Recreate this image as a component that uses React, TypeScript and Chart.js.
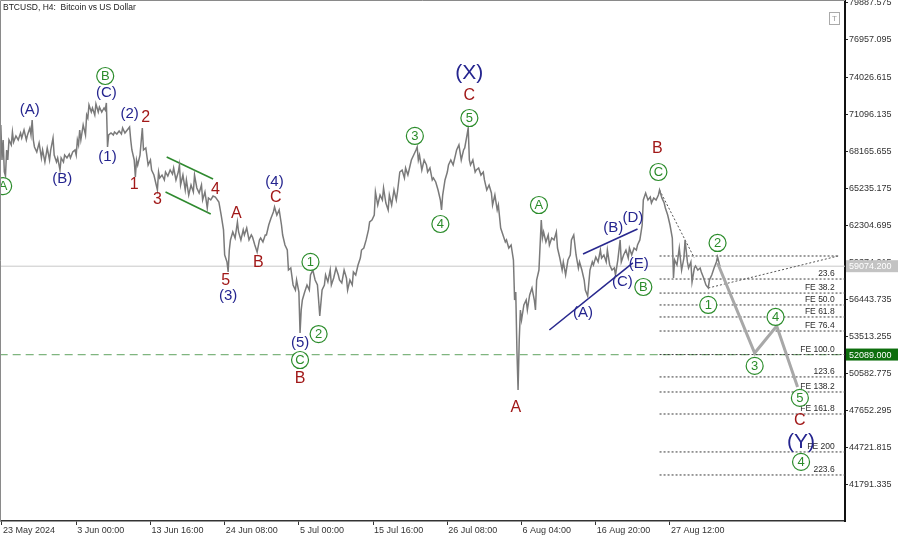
import { useEffect, useRef } from 'react';
import { Chart, registerables } from 'chart.js';

Chart.register(...registerables);

// ---------- data ----------
const xTickBars = [0, 64, 128, 192, 256, 320, 384, 448, 512, 576];
const xTickLabels = ['23 May 2024', '3 Jun 00:00', '13 Jun 16:00', '24 Jun 08:00', '5 Jul 00:00', '15 Jul 16:00', '26 Jul 08:00', '6 Aug 04:00', '16 Aug 20:00', '27 Aug 12:00'];
const yTickValues = [79887.575, 76957.095, 74026.615, 71096.135, 68165.655, 65235.175, 62304.695, 59374.215, 56443.735, 53513.255, 50582.775, 47652.295, 44721.815, 41791.335];

// [H4 bar index, price]
const priceTrace: [number, number][] = [
  [-2, 68260], [-1, 70240], [0, 67470], [1, 69050], [2, 66520], [3, 66200], [4, 68260], [5, 67470], [6, 69050], [8, 68660], [9, 69680], [10, 68890], [12, 69370], [14, 69050], [16, 69600], [17, 69210], [19, 69840], [21, 69050], [22, 69450], [24, 70000], [25, 69450], [26, 70630], [27, 69050], [28, 68500], [30, 68100], [32, 68810], [34, 67630], [35, 68260], [37, 67310], [39, 68420], [41, 67470], [42, 68260], [44, 69210], [45, 67860], [47, 67310], [48, 67630], [50, 66680], [51, 67630], [53, 67310], [54, 67860], [56, 67630], [58, 67940], [59, 67630], [61, 68100], [63, 68260], [64, 67860], [65, 69050], [66, 68660], [67, 69840], [68, 69050], [70, 70240], [72, 69450], [73, 71030], [74, 70790], [75, 71820], [77, 71260], [78, 71580], [80, 71030], [81, 71900], [83, 71260], [84, 71660], [86, 71260], [88, 71580], [89, 71420], [90, 71980], [91, 68500], [92, 69450], [94, 69600], [96, 69450], [97, 69680], [99, 69520], [101, 69760], [103, 69520], [104, 70000], [106, 69600], [108, 69840], [110, 70080], [111, 69050], [112, 68260], [114, 67470], [115, 66130], [116, 67470], [117, 67070], [119, 67860], [121, 70000], [122, 68260], [124, 68420], [126, 67070], [128, 67470], [129, 66680], [131, 66280], [133, 65490], [134, 65100], [135, 66520], [136, 66050], [138, 66280], [140, 65890], [141, 66520], [143, 66200], [145, 66680], [147, 66360], [148, 66840], [150, 65890], [152, 66520], [153, 67070], [154, 65490], [156, 66280], [158, 65100], [159, 65890], [161, 64700], [163, 65490], [165, 64940], [166, 66280], [168, 65260], [170, 64860], [172, 65490], [173, 64310], [175, 64940], [177, 63680], [178, 64470], [180, 64310], [182, 64620], [184, 64540], [187, 64150], [189, 63120], [191, 61940], [192, 59960], [194, 59410], [195, 58620], [196, 60350], [197, 61150], [199, 61780], [201, 61300], [203, 62570], [204, 61780], [206, 61150], [208, 61940], [209, 61540], [211, 62090], [213, 61150], [215, 61540], [216, 61380], [218, 60750], [220, 60200], [222, 61150], [223, 61300], [225, 60990], [227, 61540], [228, 61540], [230, 62330], [232, 62880], [234, 63360], [235, 63750], [237, 63120], [239, 63520], [241, 62330], [242, 61540], [244, 60750], [246, 60350], [247, 58770], [249, 58930], [251, 57590], [253, 57190], [254, 57980], [256, 57030], [257, 53790], [258, 55610], [259, 56400], [261, 57030], [263, 57590], [265, 57190], [266, 58380], [268, 58770], [270, 57980], [272, 57590], [273, 56400], [274, 55140], [276, 57190], [278, 57590], [279, 58380], [281, 57830], [283, 58770], [284, 57590], [286, 58140], [288, 58930], [290, 58380], [291, 57980], [293, 57750], [295, 58770], [297, 58140], [298, 57190], [300, 57980], [302, 57590], [303, 58620], [305, 58380], [307, 59170], [309, 59720], [310, 60350], [312, 60510], [314, 61150], [316, 61940], [317, 62570], [319, 62730], [321, 63120], [322, 64940], [324, 63910], [326, 64700], [328, 64310], [329, 65260], [331, 64070], [333, 63520], [334, 64700], [336, 63910], [338, 65100], [340, 64310], [341, 64940], [343, 66520], [345, 66680], [347, 66050], [348, 66840], [350, 66280], [352, 67070], [353, 67470], [355, 67860], [357, 68260], [358, 68500], [359, 67470], [360, 67860], [362, 66680], [364, 67470], [366, 67070], [367, 66520], [369, 66840], [371, 65890], [372, 66050], [374, 65730], [376, 65100], [378, 64310], [379, 63520], [380, 64700], [382, 65890], [384, 66520], [385, 67070], [387, 67470], [389, 67070], [391, 67860], [392, 68260], [394, 68660], [396, 67470], [398, 68260], [399, 68420], [401, 69450], [402, 70000], [403, 67470], [404, 67070], [406, 67470], [408, 66520], [409, 66680], [411, 66840], [413, 66280], [415, 66520], [416, 65890], [418, 65100], [420, 65490], [422, 64860], [423, 63910], [425, 64700], [427, 63520], [428, 63910], [430, 62090], [432, 61540], [434, 60990], [435, 61150], [437, 60510], [439, 60750], [441, 59560], [442, 56400], [443, 57030], [444, 52450], [445, 49290], [446, 53240], [447, 55610], [448, 54820], [450, 56010], [452, 56400], [453, 55610], [455, 56800], [457, 57350], [459, 56400], [460, 55610], [461, 57980], [463, 58770], [464, 60750], [465, 62730], [466, 61300], [467, 61780], [469, 60990], [471, 61540], [472, 60750], [474, 61300], [476, 61150], [478, 61780], [479, 60510], [481, 59720], [483, 58770], [484, 59410], [486, 58380], [488, 59560], [490, 59960], [491, 61150], [493, 61540], [495, 59960], [497, 58930], [498, 59410], [500, 58770], [502, 57980], [503, 57190], [505, 56720], [507, 58770], [509, 59410], [510, 59170], [512, 59800], [514, 59410], [516, 60350], [517, 59720], [519, 59960], [521, 59410], [522, 60350], [524, 59170], [526, 58770], [528, 58930], [529, 58380], [531, 59560], [533, 61150], [534, 59410], [536, 59960], [538, 60350], [540, 59720], [541, 60510], [543, 59960], [545, 60510], [547, 60350], [548, 60750], [550, 61150], [552, 62330], [553, 64310], [555, 64860], [557, 64310], [559, 64540], [560, 64070], [562, 64470], [564, 64310], [566, 64700], [567, 65100], [569, 64470], [571, 64070], [572, 63680], [574, 63120], [576, 62330], [578, 61300], [579, 58140], [580, 59560], [582, 59170], [584, 60510], [586, 58770], [588, 59720], [589, 61150], [591, 59410], [592, 58930], [594, 59410], [595, 57830], [597, 58930], [598, 59090], [600, 58770], [602, 58930], [603, 58620], [605, 58140], [607, 57590], [609, 57350], [610, 57980], [612, 58380], [614, 58930], [616, 59410], [617, 59800], [619, 59074],
];

const projectionPath: [number, number][] = [[617, 59330], [649, 52210], [668, 54350], [686, 49520]];
const greenChannelUpper: [number, number][] = [[142, 67710], [182, 65970]];
const greenChannelLower: [number, number][] = [[141, 64940], [180, 63200]];
const blueTriangleUpper: [number, number][] = [[501, 60040], [548, 62015]];
const blueTriangleLower: [number, number][] = [[472, 54030], [544, 59330]];
const dottedDiagonalA: [number, number][] = [[567, 65100], [597, 59720]];
const dottedDiagonalB: [number, number][] = [[609, 57350], [721, 59880]];

const fibLevels = [59880, 58060, 56950, 56010, 55060, 53950, 52089, 50320, 49130, 47390, 44390, 42570];
const fibLabels = ['', '23.6', 'FE 38.2', 'FE 50.0', 'FE 61.8', 'FE 76.4', 'FE 100.0', '123.6', 'FE 138.2', 'FE 161.8', 'FE 200', '223.6'];
const fibStartBar = 567;
const fibEndBar = 727;
const fibLabelBar = 718;

const currentPrice = 59074.2;
const targetLevel = 52089.0;

const circledLabels: [number, number, string][] = [
  [1, 65410, 'A'], [89, 74110, 'B'], [257, 51660, 'C'], [266, 59410, '1'], [273, 53710, '2'], [356, 69370, '3'], [378, 62410, '4'], [403, 70790, '5'], [463, 63910, 'A'], [553, 57430, 'B'], [566, 66520, 'C'], [609, 56010, '1'], [617, 60910, '2'], [649, 51190, '3'], [667, 55060, '4'], [688, 48660, '5'], [689, 43600, '4'],
];
const blueLabels: [number, number, string][] = [
  [24, 71420, '(A)'], [52, 65970, '(B)'], [90, 72770, '(C)'], [91, 67710, '(1)'], [110, 71110, '(2)'], [195, 56720, '(3)'], [235, 65730, '(4)'], [257, 53000, '(5)'], [501, 55370, '(A)'], [527, 62090, '(B)'], [544, 62880, '(D)'], [535, 57830, '(C)'], [549, 59250, '(E)'],
];
const bigBlueLabels: [number, number, string][] = [[403, 74350, '(X)'], [689, 45180, '(Y)']];
const redLabels: [number, number, string][] = [
  [114, 65490, '1'], [124, 70790, '2'], [134, 64310, '3'], [184, 65100, '4'], [193, 57900, '5'], [202, 63200, 'A'], [221, 59330, 'B'], [236, 64470, 'C'], [257, 50160, 'B'], [403, 72530, 'C'], [443, 47860, 'A'], [565, 68340, 'B'], [688, 46840, 'C'],
];

const FONT = '"Liberation Sans", Arial, sans-serif';
const GREEN = '#2b8c2b';
const NAVY = '#25258f';
const RED = '#a11818';

const toXY = (pts: [number, number][]) => pts.map(([x, y]) => ({ x, y }));

const lineDs = (pts: [number, number][], color: string, width: number, dash: number[] = []) => ({
  data: toXY(pts),
  borderColor: color,
  borderWidth: width,
  borderDash: dash,
  pointRadius: 0,
  tension: 0,
  fill: false,
});

const overlayPlugin = {
  id: 'overlay',
  afterDatasetsDraw(chart: any) {
    const { ctx, chartArea: a, scales } = chart;
    const xs = scales.x;
    const ys = scales.y;
    ctx.save();
    ctx.beginPath();
    ctx.rect(a.left, a.top, a.right - a.left, a.bottom - a.top);
    ctx.clip();

    // fib labels
    ctx.font = `8.5px ${FONT}`;
    ctx.fillStyle = '#2a2a2a';
    ctx.textAlign = 'right';
    ctx.textBaseline = 'bottom';
    fibLevels.forEach((lv, i) => {
      if (fibLabels[i]) ctx.fillText(fibLabels[i], xs.getPixelForValue(fibLabelBar), ys.getPixelForValue(lv) - 1);
    });

    ctx.textAlign = 'center';
    ctx.textBaseline = 'middle';
    // circled labels
    circledLabels.forEach(([b, p, t]) => {
      const px = xs.getPixelForValue(b);
      const py = ys.getPixelForValue(p);
      ctx.beginPath();
      ctx.arc(px, py, 8.5, 0, Math.PI * 2);
      ctx.fillStyle = 'rgba(255,255,255,0.9)';
      ctx.fill();
      ctx.lineWidth = 1.2;
      ctx.strokeStyle = GREEN;
      ctx.stroke();
      ctx.fillStyle = GREEN;
      ctx.font = `13px ${FONT}`;
      ctx.fillText(t, px, py + 0.5);
    });
    blueLabels.forEach(([b, p, t]) => {
      ctx.fillStyle = NAVY;
      ctx.font = `15px ${FONT}`;
      ctx.fillText(t, xs.getPixelForValue(b), ys.getPixelForValue(p));
    });
    bigBlueLabels.forEach(([b, p, t]) => {
      ctx.fillStyle = NAVY;
      ctx.font = `21px ${FONT}`;
      ctx.fillText(t, xs.getPixelForValue(b), ys.getPixelForValue(p));
    });
    redLabels.forEach(([b, p, t]) => {
      ctx.fillStyle = RED;
      ctx.font = `16px ${FONT}`;
      ctx.fillText(t, xs.getPixelForValue(b), ys.getPixelForValue(p));
    });
    ctx.restore();
  },
  afterDraw(chart: any) {
    const { ctx, chartArea: a, scales } = chart;
    const ys = scales.y;
    ctx.save();
    // frame top / left
    ctx.strokeStyle = '#8a8a8a';
    ctx.lineWidth = 1;
    ctx.beginPath();
    ctx.moveTo(a.left - 0.5, a.bottom);
    ctx.lineTo(a.left - 0.5, a.top - 0.5);
    ctx.lineTo(a.right, a.top - 0.5);
    ctx.stroke();

    // title
    ctx.fillStyle = '#222';
    ctx.font = `8.5px ${FONT}`;
    ctx.textAlign = 'left';
    ctx.textBaseline = 'middle';
    ctx.fillText('BTCUSD, H4:  Bitcoin vs US Dollar', 3, 7.5);

    // small T button
    ctx.strokeStyle = '#aaa';
    ctx.strokeRect(829.5, 12.5, 10, 12);
    ctx.fillStyle = '#999';
    ctx.font = `8px ${FONT}`;
    ctx.textAlign = 'center';
    ctx.fillText('T', 834.5, 19);

    // price boxes on axis
    const box = (price: number, text: string, bg: string, fg: string) => {
      const py = ys.getPixelForValue(price);
      ctx.fillStyle = bg;
      ctx.fillRect(a.right + 1, py - 6, 900 - a.right - 3, 12);
      ctx.fillStyle = fg;
      ctx.font = `9px ${FONT}`;
      ctx.textAlign = 'left';
      ctx.textBaseline = 'middle';
      ctx.fillText(text, a.right + 4, py + 0.5);
    };
    box(currentPrice, currentPrice.toFixed(3), '#c3c3c3', '#ffffff');
    box(targetLevel, targetLevel.toFixed(3), '#0d6e0d', '#ffffff');
    ctx.restore();
  },
};

export default function App() {
  const canvasRef = useRef<HTMLCanvasElement | null>(null);

  useEffect(() => {
    const canvas = canvasRef.current;
    if (!canvas) return;

    const fibDatasets = fibLevels.map((lv, i) =>
      lineDs([[fibStartBar, lv], [i === 0 ? 721 : fibEndBar, lv]], '#3a3a3a', 1, [2, 2])
    );

    const datasets: any[] = [
      lineDs(projectionPath, '#a8a8a8', 3),
      lineDs(priceTrace, '#7a7a7a', 1.5),
      lineDs(greenChannelUpper, '#2f8a2f', 1.6),
      lineDs(greenChannelLower, '#2f8a2f', 1.6),
      lineDs(blueTriangleUpper, '#28288e', 1.6),
      lineDs(blueTriangleLower, '#28288e', 1.6),
      lineDs(dottedDiagonalA, '#555', 1, [2, 2]),
      lineDs(dottedDiagonalB, '#555', 1, [2, 2]),
      ...fibDatasets,
      lineDs([[-2, currentPrice], [730, currentPrice]], '#c8c8c8', 1),
      lineDs([[-2, targetLevel], [730, targetLevel]], '#7fb57f', 1.3, [8, 5]),
    ];

    const chart = new Chart(canvas, {
      type: 'line',
      data: { datasets },
      options: {
        animation: false,
        responsive: false,
        maintainAspectRatio: false,
        devicePixelRatio: 1,
        layout: { padding: { left: 1, top: 1, right: 0, bottom: 0 } },
        plugins: { legend: { display: false }, tooltip: { enabled: false }, title: { display: false } },
        events: [],
        scales: {
          x: {
            type: 'linear',
            min: -0.86,
            max: 726.9,
            afterBuildTicks: (s: any) => {
              s.ticks = xTickBars.map((v) => ({ value: v }));
            },
            afterFit: (s: any) => {
              s.height = 16;
              s.paddingLeft = 0;
              s.paddingRight = 0;
            },
            ticks: {
              autoSkip: false,
              maxRotation: 0,
              minRotation: 0,
              align: 'start',
              padding: 0,
              labelOffset: 1,
              color: '#333',
              font: { family: FONT, size: 9 },
              callback: (v: any) => {
                const i = xTickBars.indexOf(Number(v));
                return i >= 0 ? xTickLabels[i] : '';
              },
            },
            grid: { drawOnChartArea: false, drawTicks: true, tickLength: 4, color: '#333' },
            border: { display: true, color: '#333', width: 1.5 },
          },
          y: {
            type: 'linear',
            position: 'right',
            min: 38931,
            max: 80038,
            afterBuildTicks: (s: any) => {
              s.ticks = yTickValues.map((v) => ({ value: v }));
            },
            afterFit: (s: any) => {
              s.width = 55;
              s.paddingTop = 0;
              s.paddingBottom = 0;
            },
            ticks: {
              autoSkip: false,
              padding: 1,
              color: '#333',
              font: { family: FONT, size: 9 },
              callback: (v: any) => Number(v).toFixed(3),
            },
            grid: { drawOnChartArea: false, drawTicks: true, tickLength: 3, color: '#222' },
            border: { display: true, color: '#111', width: 2 },
          },
        },
      },
      plugins: [overlayPlugin],
    });

    return () => chart.destroy();
  }, []);

  return (
    <div style={{ position: 'absolute', left: 0, top: 0, width: 900, height: 537, background: '#ffffff' }}>
      <canvas ref={canvasRef} width={900} height={537} style={{ display: 'block', width: 900, height: 537 }} />
    </div>
  );
}
